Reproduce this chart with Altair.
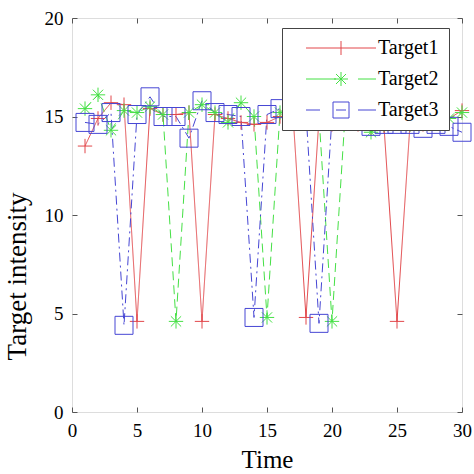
import altair as alt
import pandas as pd

time = list(range(1, 31))
target1 = [13.5, 14.9, 15.7, 15.6, 4.6, 15.4, 15.1, 15.1, 15.2, 4.6,
           15.1, 14.9, 14.7, 14.6, 14.7, 15.0, 15.1, 4.8, 14.9, 14.6,
           14.7, 14.6, 14.4, 14.5, 4.6, 14.6, 14.6, 14.7, 14.9, 15.3]
target2 = [15.4, 16.1, 14.3, 15.3, 15.2, 15.5, 15.1, 4.6, 15.2, 15.6,
           15.2, 14.7, 15.7, 15.0, 4.8, 15.2, 15.3, 15.1, 15.0, 4.6,
           15.0, 14.8, 14.2, 14.6, 14.7, 14.6, 14.8, 14.7, 14.9, 15.2]
target3 = [14.7, 14.6, 15.2, 4.4, 15.1, 16.0, 15.0, 15.0, 13.9, 15.8,
           15.2, 15.1, 15.0, 4.8, 15.1, 15.4, 15.3, 15.2, 4.5, 15.0,
           14.9, 14.8, 14.5, 14.6, 14.6, 14.6, 14.4, 14.6, 14.5, 14.2]
series_names = ["Target1", "Target2", "Target3"]
x_ticks = [0, 5, 10, 15, 20, 25, 30]
y_ticks = [0, 5, 10, 15, 20]

colors = ["#e2474a", "#45e045", "#4646d4"]
dashes = [[1, 0], [9, 5], [9, 4, 2, 4]]
marker_paths = [
    "M-0.8,0L0.8,0M0,-0.8L0,0.8",
    "M-0.8,0L0.8,0M0,-0.8L0,0.8M-0.57,-0.57L0.57,0.57M-0.57,0.57L0.57,-0.57",
    "M-1,-1L1,-1L1,1L-1,1Z",
]
legend_paths = [
    "M4,0H74M39,-7V7",
    "M4,0H34M56,0H74M32,0H46M39,-7V7M34,-5L44,5M34,5L44,-5",
    "M4,0H18M56,0H74M31,-8H47V8H31ZM34,0H44",
]

rows = []
for name, vals in zip(series_names, [target1, target2, target3]):
    for t, v in zip(time, vals):
        rows.append({"Time": t, "value": v, "series": name})
df = pd.DataFrame(rows)

FONT = "Liberation Serif"
AXC = "#555555"

xscale = alt.Scale(domain=[0, 30], nice=False, zero=False)
yscale = alt.Scale(domain=[0, 20], nice=False, zero=False)
color_scale = alt.Scale(domain=series_names, range=colors)
dash_scale = alt.Scale(domain=series_names, range=dashes)
shape_scale = alt.Scale(domain=series_names, range=marker_paths)
legend_shape_scale = alt.Scale(domain=series_names, range=legend_paths)

common = dict(offset=-5, tickSize=5, domain=False, grid=False, tickColor=AXC,
              tickWidth=1, labelFont=FONT, labelFontSize=19, labelColor="black",
              titleFont=FONT, titleFontWeight="normal",
              titleColor="black", labelFlush=False, labelOverlap=False)

bottom_axis = alt.Axis(orient="bottom", values=x_ticks, title="Time",
                       labelPadding=9, titlePadding=7, titleFontSize=25,
                       **common)
left_axis = alt.Axis(orient="left", values=y_ticks, title="Target intensity",
                     labelPadding=9, titlePadding=13, titleFontSize=27,
                     titleY=258, **common)
top_axis = alt.Axis(orient="top", values=x_ticks, title=None, labels=False,
                    offset=-5, tickSize=5, domain=False, grid=False,
                    tickColor=AXC, tickWidth=1)
right_axis = alt.Axis(orient="right", values=y_ticks, title=None, labels=False,
                      offset=-5, tickSize=5, domain=False, grid=False,
                      tickColor=AXC, tickWidth=1)

legend = alt.Legend(
    orient="none", legendX=210, legendY=10, title=None, padding=10,
    fillColor="white", strokeColor="#444444", labelFont=FONT,
    labelFontSize=20, labelColor="black", symbolSize=4, symbolStrokeWidth=1,
    symbolFillColor="transparent", labelOffset=66, rowPadding=11,
)

lines = alt.Chart(df).mark_line(strokeWidth=1).encode(
    x=alt.X("Time:Q", scale=xscale, axis=bottom_axis),
    y=alt.Y("value:Q", scale=yscale, axis=left_axis),
    color=alt.Color("series:N", scale=color_scale, legend=None),
    strokeDash=alt.StrokeDash("series:N", scale=dash_scale, legend=None),
)

points = alt.Chart(df).mark_point(filled=False, size=324, strokeWidth=1,
                                  opacity=1).encode(
    x=alt.X("Time:Q", scale=xscale, axis=top_axis),
    y=alt.Y("value:Q", scale=yscale, axis=right_axis),
    color=alt.Color("series:N", scale=color_scale, legend=None),
    shape=alt.Shape("series:N", scale=shape_scale, legend=None),
)

legend_layer = alt.Chart(df).transform_filter("datum.Time < 0").mark_point(
    filled=False, size=4, strokeWidth=1, opacity=1
).encode(
    color=alt.Color("series:N", scale=color_scale, legend=legend),
    shape=alt.Shape("series:N", scale=legend_shape_scale, legend=legend),
)

chart = alt.layer(lines, points, legend_layer).resolve_axis(
    x="independent", y="independent"
).resolve_scale(
    color="independent", shape="independent"
).properties(
    width=390, height=394,
    padding={"left": 72, "top": 18, "right": 12, "bottom": 62},
    autosize="none",
).configure_view(stroke=AXC, strokeWidth=1).configure(
    background="white", font=FONT
).configure_legend(labelFont=FONT).configure_axis(labelFont=FONT, titleFont=FONT)

chart.save("out.html", embed_options={"renderer": "svg", "actions": False})
